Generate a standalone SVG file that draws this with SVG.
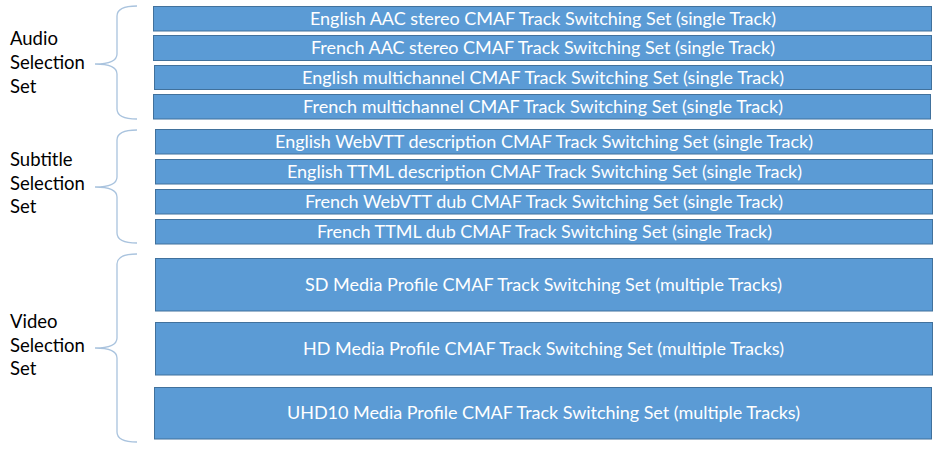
<svg xmlns="http://www.w3.org/2000/svg" width="937" height="457" viewBox="0 0 937 457">
<style>
.box{fill:#5B9BD5;stroke:#41719C;stroke-width:1}
.bt{font-family:Lato,"Open Sans",sans-serif;font-size:18px;fill:#FFFFFF;text-anchor:middle}
.lbl{font-family:Lato,"Open Sans",sans-serif;font-size:18.5px;fill:#000000}
.brace{fill:none;stroke:#A9C3DE;stroke-width:1.3}
</style>
<rect width="937" height="457" fill="#FFFFFF"/>
<g id="connectors">
<path class="brace" d="M137,6 Q117,6 117,16 L117,54 Q117,64 95,64 Q117,64 117,74 L117,109 Q117,119 137,119"/>
<path class="brace" d="M137,130 Q117,130 117,140 L117,177 Q117,187 95,187 Q117,187 117,197 L117,233 Q117,243 137,243"/>
<path class="brace" d="M137,254 Q117,254 117,264 L117,338 Q117,348 95,348 Q117,348 117,358 L117,432 Q117,442 137,442"/>
</g>
<g id="label-audio"><text class="lbl" x="10" y="45">Audio</text><text class="lbl" x="10" y="69">Selection</text><text class="lbl" x="10" y="93">Set</text></g>
<g id="label-subtitle"><text class="lbl" x="10" y="166">Subtitle</text><text class="lbl" x="10" y="190">Selection</text><text class="lbl" x="10" y="213">Set</text></g>
<g id="label-video"><text class="lbl" x="10" y="328">Video</text><text class="lbl" x="10" y="352">Selection</text><text class="lbl" x="10" y="375">Set</text></g>
<g id="audio-1"><rect class="box" x="153.5" y="6.5" width="778" height="24.5"/><text class="bt" x="543" y="24.5" textLength="466">English AAC stereo CMAF Track Switching Set (single Track)</text></g>
<g id="audio-2"><rect class="box" x="153.5" y="35.5" width="778" height="25"/><text class="bt" x="543" y="54" textLength="464">French AAC stereo CMAF Track Switching Set (single Track)</text></g>
<g id="audio-3"><rect class="box" x="154.5" y="65.5" width="777" height="24"/><text class="bt" x="543" y="83.5" textLength="482">English multichannel CMAF Track Switching Set (single Track)</text></g>
<g id="audio-4"><rect class="box" x="153.5" y="94.5" width="777" height="24.5"/><text class="bt" x="543" y="113" textLength="480">French multichannel CMAF Track Switching Set (single Track)</text></g>
<g id="subtitle-1"><rect class="box" x="155.5" y="129.5" width="777" height="24.5"/><text class="bt" x="544" y="147.5" textLength="538">English WebVTT description CMAF Track Switching Set (single Track)</text></g>
<g id="subtitle-2"><rect class="box" x="155.5" y="159.5" width="777" height="24.5"/><text class="bt" x="544.5" y="177.5" textLength="515">English TTML description CMAF Track Switching Set (single Track)</text></g>
<g id="subtitle-3"><rect class="box" x="155.5" y="189.5" width="777" height="24.5"/><text class="bt" x="544" y="208" textLength="478">French WebVTT dub CMAF Track Switching Set (single Track)</text></g>
<g id="subtitle-4"><rect class="box" x="155.5" y="219.5" width="777" height="24.5"/><text class="bt" x="544.5" y="238" textLength="455">French TTML dub CMAF Track Switching Set (single Track)</text></g>
<g id="video-sd"><rect class="box" x="155.5" y="258.5" width="777" height="52.5"/><text class="bt" x="543.5" y="291" textLength="477">SD Media Profile CMAF Track Switching Set (multiple Tracks)</text></g>
<g id="video-hd"><rect class="box" x="155.5" y="322.5" width="777" height="52.5"/><text class="bt" x="543.5" y="355" textLength="481">HD Media Profile CMAF Track Switching Set (multiple Tracks)</text></g>
<g id="video-uhd"><rect class="box" x="154.5" y="387.5" width="777" height="51.5"/><text class="bt" x="543.5" y="419" textLength="513">UHD10 Media Profile CMAF Track Switching Set (multiple Tracks)</text></g>
</svg>
